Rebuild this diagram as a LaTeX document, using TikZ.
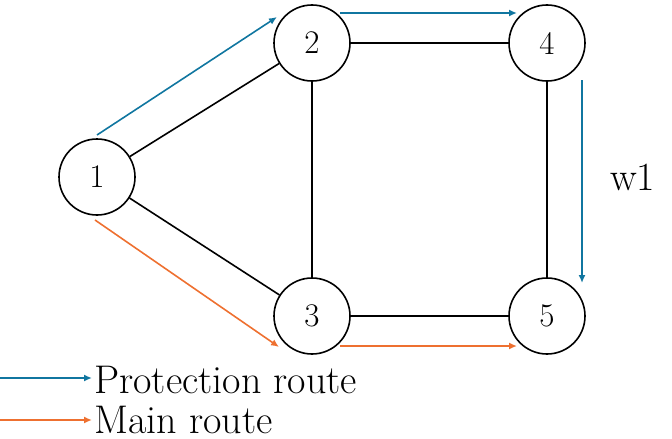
\documentclass[tikz,border=0pt]{standalone}
\usepackage{fontspec}
\setmainfont{Latin Modern Roman}
\usetikzlibrary{arrows.meta}
\definecolor{pblue}{RGB}{16,118,160}
\definecolor{morange}{RGB}{238,112,48}
\begin{document}
\begin{tikzpicture}[x=1pt,y=-1pt,
  nd/.style={circle,draw,line width=1.6pt,minimum size=76pt,inner sep=0pt,font=\fontsize{33}{36}\selectfont},
  ed/.style={line width=1.6pt},
  pr/.style={draw=pblue,line width=1.6pt,-{Latex[length=8pt,width=7pt]}},
  mr/.style={draw=morange,line width=1.6pt,-{Latex[length=8pt,width=7pt]}},
  lab/.style={font=\fontsize{40}{44}\selectfont,anchor=west,inner sep=2pt}]
\useasboundingbox (0,0) rectangle (672,439);
\node[nd] (n1) at (97,177) {1};
\node[nd] (n2) at (312,43) {2};
\node[nd] (n4) at (547,43) {4};
\node[nd] (n3) at (312,316) {3};
\node[nd] (n5) at (547,316) {5};
\draw[ed] (n1) -- (n2);
\draw[ed] (n1) -- (n3);
\draw[ed] (n2) -- (n3);
\draw[ed] (n2) -- (n4);
\draw[ed] (n3) -- (n5);
\draw[ed] (n4) -- (n5);
\coordinate (p1) at (97,135);
\coordinate (p2) at (277,17);
\coordinate (p3) at (340,13);
\coordinate (p4) at (517,13);
\coordinate (p5) at (582,80);
\coordinate (p6) at (582,283);
\draw[pr] (p1) -- (p2);
\draw[pr] (p3) -- (p4);
\draw[pr] (p5) -- (p6);
\coordinate (m1) at (95,220);
\coordinate (m2) at (279,347);
\coordinate (m3) at (340,346);
\coordinate (m4) at (517,346);
\draw[mr] (m1) -- (m2);
\draw[mr] (m3) -- (m4);
\node[lab] (w) at (608,177) {w1};
\coordinate (l1a) at (0,378);
\coordinate (l1b) at (92,378);
\coordinate (l2a) at (0,420);
\coordinate (l2b) at (92,420);
\draw[pr] (l1a) -- (l1b);
\draw[mr] (l2a) -- (l2b);
\node[lab] (t1) at (92,380) {Protection route};
\node[lab] (t2) at (92,420) {Main route};
\end{tikzpicture}
\end{document}
